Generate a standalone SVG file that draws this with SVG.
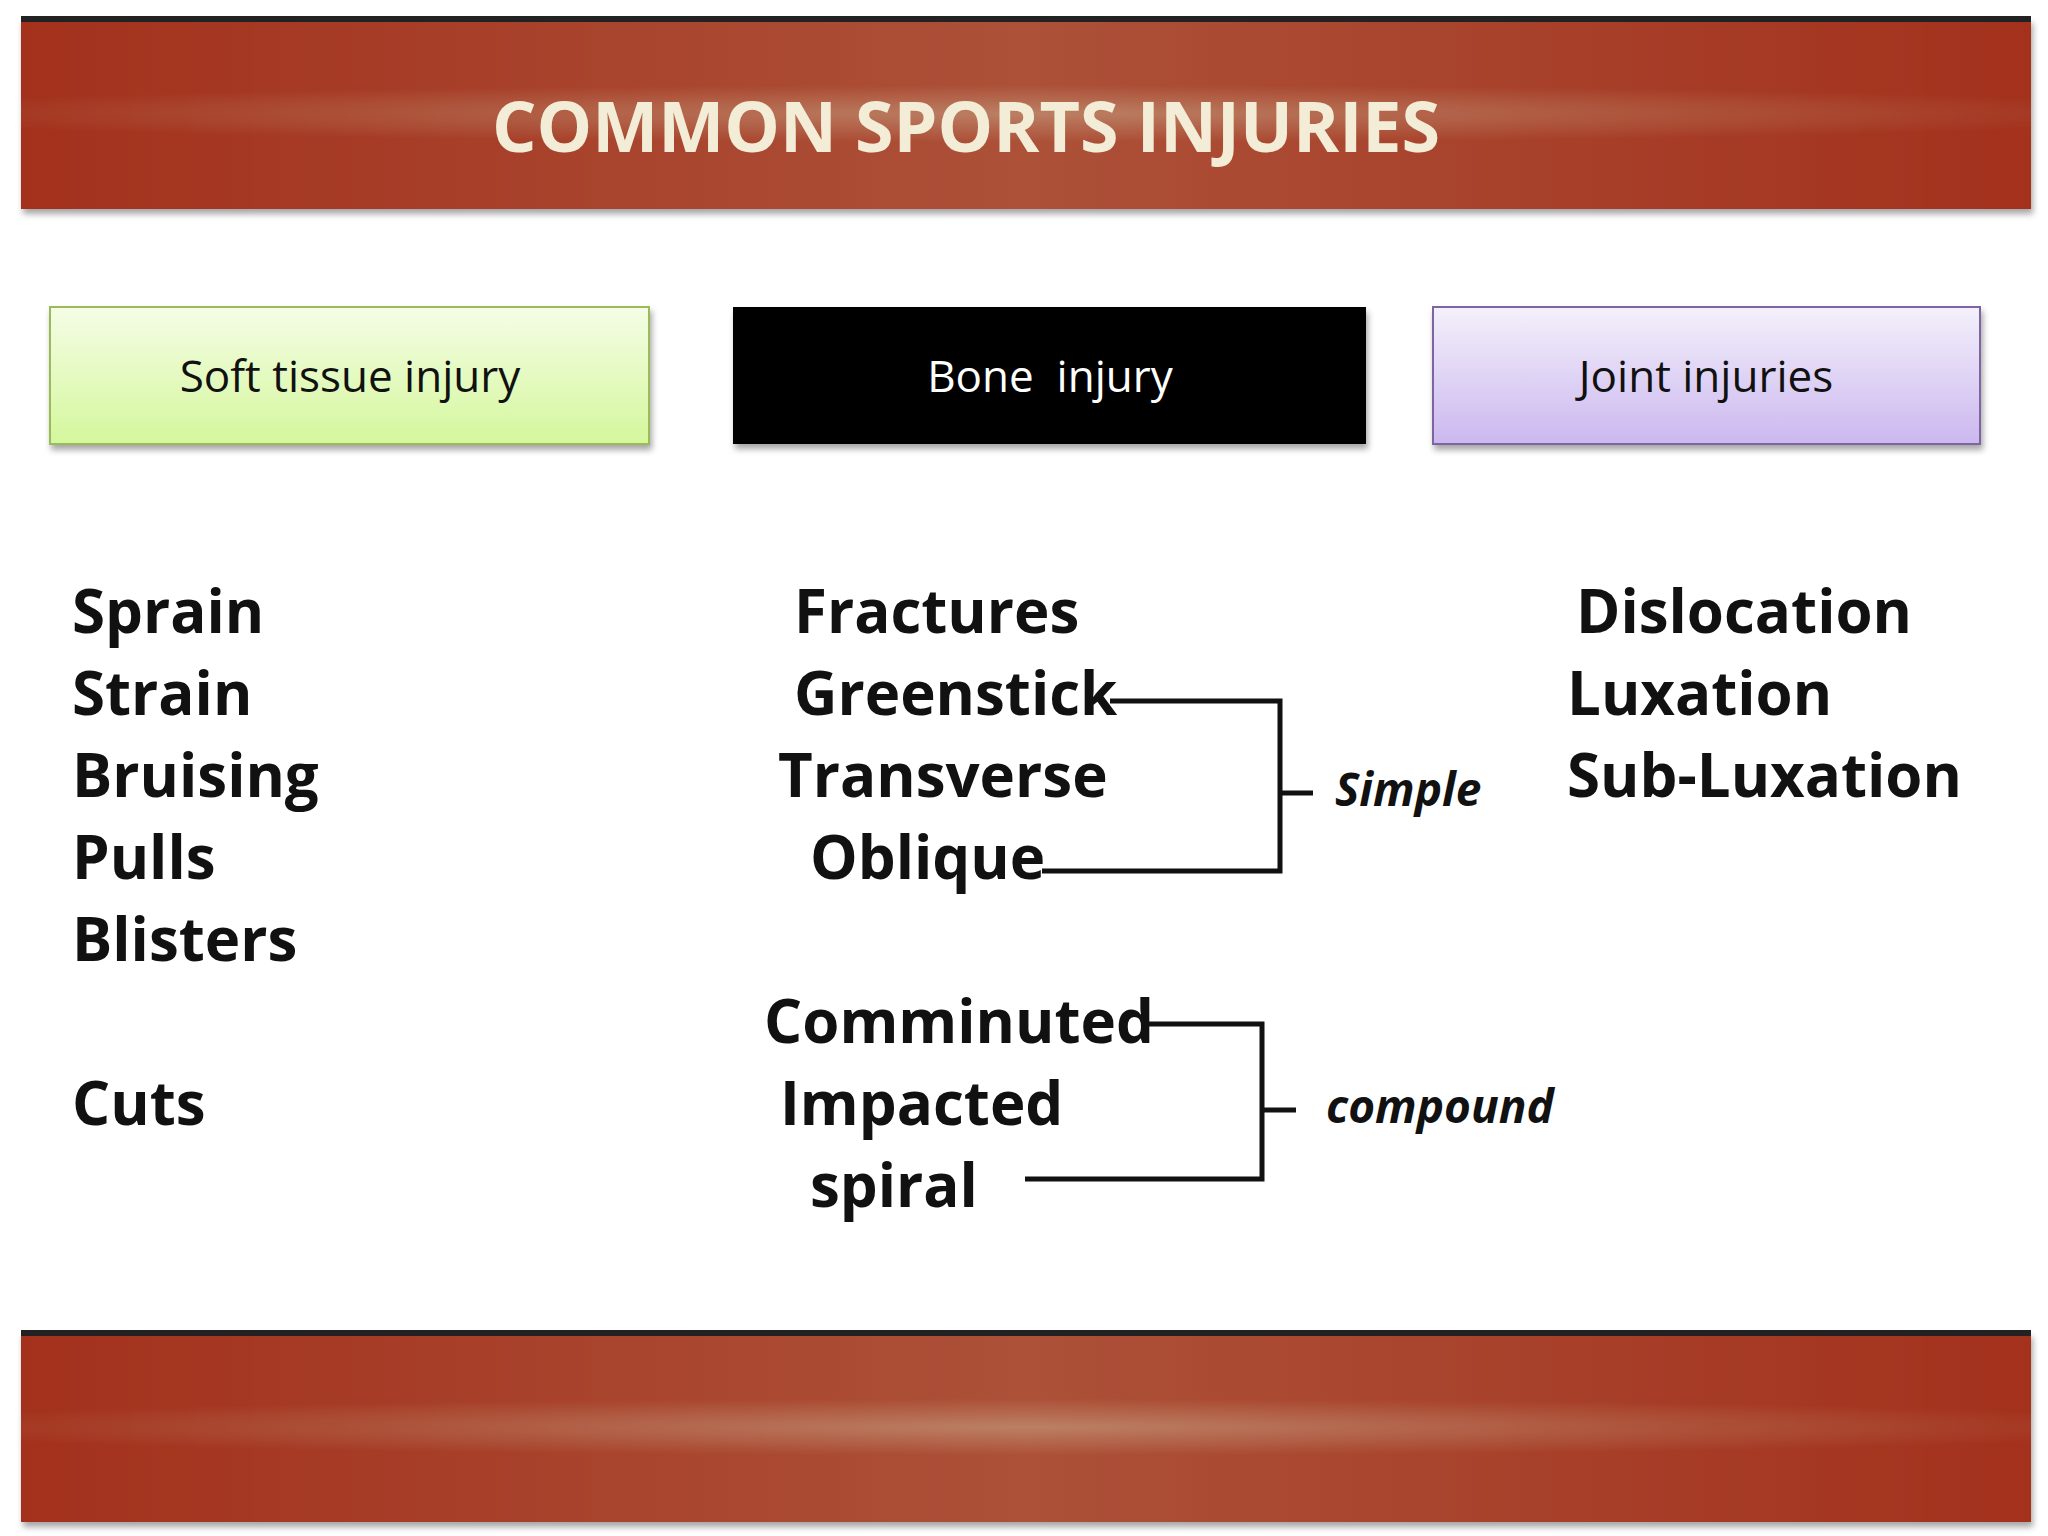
<svg xmlns="http://www.w3.org/2000/svg" width="2048" height="1536" viewBox="0 0 2048 1536">
<defs>
<radialGradient id="ban" cx="0.5" cy="0.5" r="0.6" gradientTransform="translate(0.5 0.5) scale(1 0.25) translate(-0.5 -0.5)">
<stop offset="0" stop-color="#bb8064"/><stop offset="1" stop-color="#a3311c"/></radialGradient>
<linearGradient id="soft" x1="0" y1="0" x2="0" y2="1"><stop offset="0" stop-color="#f5fde6"/><stop offset="1" stop-color="#d4f79c"/></linearGradient>
<linearGradient id="joint" x1="0" y1="0" x2="0" y2="1"><stop offset="0" stop-color="#f4f0fb"/><stop offset="1" stop-color="#cbb8ef"/></linearGradient>
<linearGradient id="bv" x1="0" y1="0" x2="1" y2="0"><stop offset="0" stop-color="#a3311c"/><stop offset="0.5" stop-color="#bb8064"/><stop offset="1" stop-color="#a3311c"/></linearGradient>
<filter id="sh" x="-5%" y="-10%" width="110%" height="130%"><feDropShadow dx="2" dy="5" stdDeviation="3" flood-opacity="0.35"/></filter>
</defs>
<style>
.t{font-family:"Open Sans","Noto Sans",sans-serif;font-weight:bold;font-size:60px;fill:#111}
.b{font-family:"Open Sans","Noto Sans",sans-serif;font-size:44px}
.i{font-family:"Open Sans","Noto Sans",sans-serif;font-weight:bold;font-style:italic;font-size:46px;fill:#111}
.c{fill:none;stroke:#111;stroke-width:5}
</style>
<rect width="2048" height="1536" fill="#fff"/>
<g id="top"><rect x="21" y="18" width="2010" height="191" fill="url(#bv)" filter="url(#sh)"/><rect x="21" y="18" width="2010" height="191" fill="url(#ban)" opacity="0.6"/><rect x="21" y="16" width="2010" height="6" fill="#222"/>
<text x="966" y="152" text-anchor="middle" font-family="Open Sans, Noto Sans, sans-serif" font-weight="bold" font-size="70" fill="#f3ecd6">COMMON SPORTS INJURIES</text></g>
<g id="soft"><rect x="50" y="307" width="599" height="137" fill="url(#soft)" stroke="#9bbb59" stroke-width="2" filter="url(#sh)"/><text class="b" x="350" y="392" text-anchor="middle" fill="#111">Soft tissue injury</text></g>
<g id="bone"><rect x="733" y="307" width="633" height="137" fill="#000" filter="url(#sh)"/><text class="b" x="1050" y="392" text-anchor="middle" fill="#fff" xml:space="preserve">Bone  injury</text></g>
<g id="joint"><rect x="1433" y="307" width="547" height="137" fill="url(#joint)" stroke="#8064a2" stroke-width="2" filter="url(#sh)"/><text class="b" x="1706" y="392" text-anchor="middle" fill="#111">Joint injuries</text></g>
<g id="soft-list"><text class="t" x="72" y="633">Sprain</text><text class="t" x="72" y="715">Strain</text><text class="t" x="72" y="797">Bruising</text><text class="t" x="72" y="879">Pulls</text><text class="t" x="72" y="961">Blisters</text><text class="t" x="72" y="1125">Cuts</text></g>
<g id="bone-list"><text class="t" x="794" y="633">Fractures</text><text class="t" x="794" y="715">Greenstick</text><text class="t" x="778" y="797">Transverse</text><text class="t" x="810" y="879">Oblique</text><text class="t" x="764" y="1043">Comminuted</text><text class="t" x="780" y="1125">Impacted</text><text class="t" x="810" y="1207">spiral</text></g>
<g id="joint-list"><text class="t" x="1576" y="633">Dislocation</text><text class="t" x="1567" y="715">Luxation</text><text class="t" x="1567" y="797">Sub-Luxation</text></g>
<g id="connectors">
<path class="c" d="M1110 701H1280V871H1042M1280 793H1313"/>
<path class="c" d="M1144 1024H1262V1179H1025M1262 1110H1296"/>
</g>
<g id="labels"><text class="i" x="1335" y="806">Simple</text><text class="i" x="1326" y="1123">compound</text></g>
<g id="bottom"><rect x="21" y="1332" width="2010" height="190" fill="url(#bv)" filter="url(#sh)"/><rect x="21" y="1332" width="2010" height="190" fill="url(#ban)" opacity="0.6"/><rect x="21" y="1330" width="2010" height="6" fill="#222"/></g>
</svg>
